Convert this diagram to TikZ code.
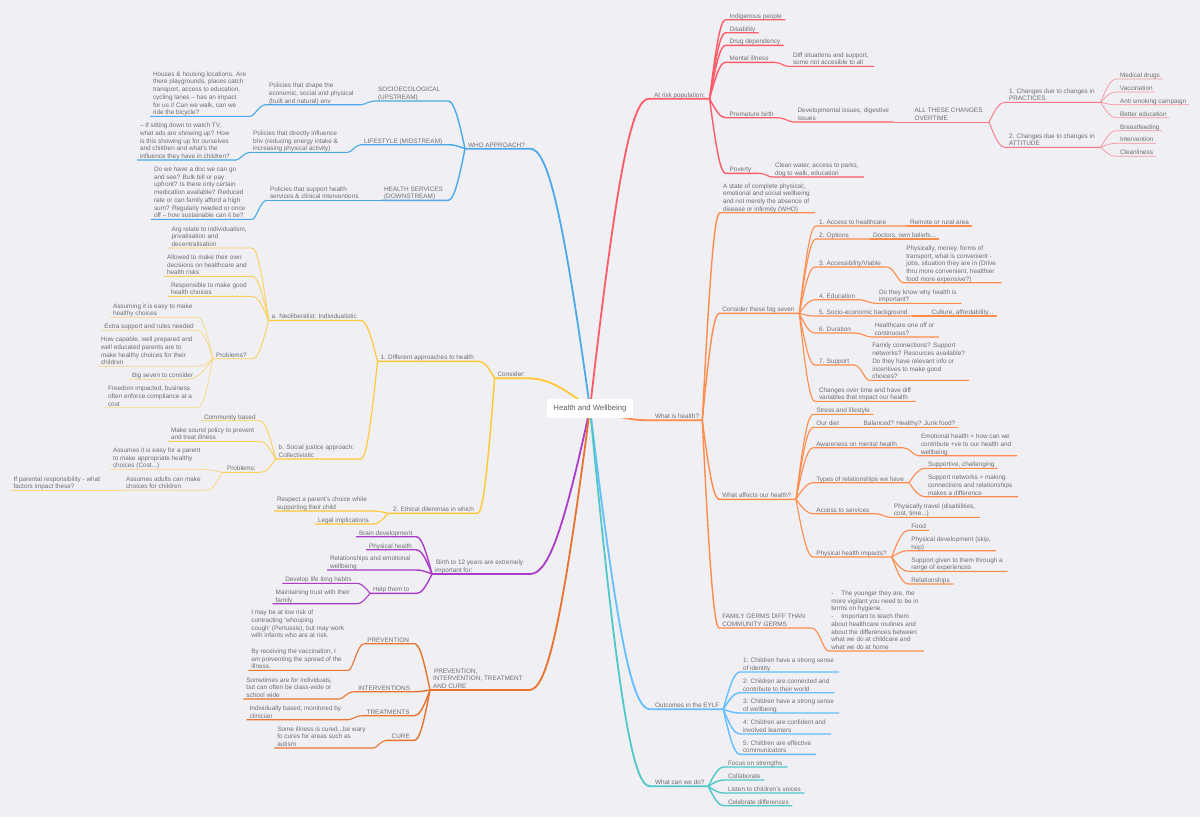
\documentclass[tikz,border=0pt]{standalone}
\usepackage{fontspec}
\setmainfont{Liberation Sans}
\usetikzlibrary{calc,backgrounds}

\definecolor{paper}{RGB}{239,239,244}
\definecolor{inktext}{RGB}{112,112,114}
\definecolor{cblue}{RGB}{76,170,232}
\definecolor{cred}{RGB}{255,90,104}
\definecolor{cyellow}{RGB}{255,200,50}
\definecolor{cpurple}{RGB}{170,60,200}
\definecolor{cdark}{RGB}{232,115,45}
\definecolor{corange}{RGB}{255,140,75}
\definecolor{csky}{RGB}{100,190,255}
\definecolor{cteal}{RGB}{80,200,200}

\tikzset{
    topic/.style={anchor=south west,inner xsep=3pt,inner ysep=0pt,outer sep=0pt,
        font=\fontsize{6.4}{7.7}\selectfont,text=inktext},
    mainbox/.style={fill=white,rounded corners=3pt,minimum width=86pt,minimum height=19pt,
        inner sep=0pt,font=\fontsize{7.7}{9}\selectfont,text=inktext!85!black},
    lvone/.style={line width=1.8pt,line join=round},
    lvtwo/.style={line width=1.4pt,line join=round},
    lvthree/.style={line width=1.1pt,line join=round},
    lvfour/.style={line width=0.9pt,line join=round,draw opacity=.8},
    lvfive/.style={line width=0.7pt,line join=round,draw opacity=.6}
}

% text of a topic: width of its line, optional shift of the text
\newcommand{\tx}[3][0]{\makebox[\dimexpr#2pt-6pt][l]{\hspace{#1pt}\raisebox{-.8pt}[\height][\depth]{\begin{tabular}[b]{@{}l@{}}#3\end{tabular}}}}
% curve from a parent into the line of a child, then along that line
\newcommand{\bend}[5]{\draw[#5] let \p1=(#1),\p2=(#2) in (\p1) .. controls ({\x1+.45*(\x2-\x1)},{\y1+#4*(\y2-\y1)}) and ({\x1+.7*(\x2-\x1)},\y2) .. (\p2) -- (#3);}
\newcommand{\fanL}[3]{\bend{#1.south west}{#2.south east}{#2.south west}{.75}{#3}}
\newcommand{\fanR}[3]{\bend{#1.south east}{#2.south west}{#2.south east}{.75}{#3}}
\newcommand{\runL}[3]{\bend{#1.south west}{#2.south east}{#2.south west}{0}{#3}}
\newcommand{\runR}[3]{\bend{#1.south east}{#2.south west}{#2.south east}{0}{#3}}

\begin{document}
\begin{tikzpicture}[x=1pt,y=-1pt]
    \useasboundingbox (0,0) rectangle (1200,817);

    \node[mainbox] (root) at (590,408.5) {Health and Wellbeing};

    % upper left
    \node[topic] (who) at (465,148.7) {\tx{65}{WHO APPROACH?}};
    \node[topic] (socio) at (375,101) {\tx{73}{SOCIOECOLOGICAL\\(UPSTREAM)}};
    \node[topic] (polshape) at (266,104.7) {\tx{95}{Policies that shape the\\economic, social and physical\\(built and natural) env}};
    \node[topic] (houses) at (150,116.3) {\tx{100}{Houses \& housing locations. Are\\there playgrounds, places catch\\transport, access to education,\\cycling lanes -- has an impact\\for us // Can we walk, can we\\ride the bicycle?}};
    \node[topic] (lifestyle) at (361,144.7) {\tx{87}{LIFESTYLE (MIDSTREAM)}};
    \node[topic] (polbhv) at (250,152.3) {\tx{98}{Policies that directly influence\\bhv (reducing energy intake \&\\increasing physical activity)}};
    \node[topic] (sitting) at (137,160) {\tx{99}{-- If sitting down to watch TV,\\what ads are showing up? How\\is this showing up for ourselves\\and children and what's the\\influence they have in children?}};
    \node[topic] (hservices) at (381,200.3) {\tx{67}{HEALTH SERVICES\\(DOWNSTREAM)}};
    \node[topic] (polserv) at (267,200.3) {\tx{114}{Policies that support health\\services \& clinical interventions}};
    \node[topic] (docquest) at (151,219.3) {\tx{101}{Do we have a doc we can go\\and see? Bulk bill or pay\\upfront? Is there only certain\\medication available? Reduced\\rate or can family afford a high\\sum? Regularly needed or once\\off -- how sustainable can it be?}};

    % consider
    \node[topic] (consider) at (494.6,378.3) {\tx{32.4}{Consider:}};
    \node[topic] (diffapp) at (377.5,361.3) {\tx{101}{1. Different approaches to health}};
    \node[topic] (neolib) at (268.6,320.3) {\tx{92}{a. Neoliberalist: Individualistic}};
    \node[topic] (argrel) at (168.6,248) {\tx{83.2}{Arg relate to individualism,\\privatisation and\\decentralisation}};
    \node[topic] (allowed) at (164,276.3) {\tx{88}{Allowed to make their own\\decisions on healthcare and\\health risks}};
    \node[topic] (respons) at (168,296.3) {\tx{84}{Responsible to make good\\health choices}};
    \node[topic] (probone) at (213,358.7) {\tx{39.5}{Problems?}};
    \node[topic] (assuming) at (110,317.3) {\tx{87.5}{Assuming it is easy to make\\healthy choices}};
    \node[topic] (extra) at (101.4,330.3) {\tx{96}{Extra support and rules needed}};
    \node[topic] (capable) at (98,366.3) {\tx{100}{How capable, well prepared and\\well educated parents are to\\make healthy choices for their\\children}};
    \node[topic] (bigcons) at (129,379.3) {\tx{59}{Big seven to consider}};
    \node[topic] (freedom) at (105,407.7) {\tx{92.5}{Freedom impacted, business\\often enforce compliance at a\\cost}};
    \node[topic] (justice) at (275.7,459) {\tx{85}{b. Social justice approach:\\Collectivistic}};
    \node[topic] (commun) at (201,420.7) {\tx{58.6}{Community based}};
    \node[topic] (policy) at (168,441.3) {\tx{91.6}{Make sound policy to prevent\\and treat illness}};
    \node[topic] (probtwo) at (222,472.3) {\tx{38.7}{\hspace{2pt}Problems:}};
    \node[topic] (easypar) at (110,469.3) {\tx{90}{Assumes it is easy for a parent\\to make appropriate healthy\\choices (Cost...)}};
    \node[topic] (adults) at (123,490.3) {\tx{84}{Assumes adults can make\\choices for children}};
    \node[topic] (parental) at (10.7,490.3) {\tx{112.3}{If parental responsibility - what\\factors impact these?}};
    \node[topic] (ethical) at (388,513.3) {\tx{89.5}{\hspace{2pt}2. Ethical dilemmas in which}};
    \node[topic] (respect) at (274,511) {\tx{99}{Respect a parent's choice while\\supporting their child}};
    \node[topic] (legal) at (315,524) {\tx{58}{Legal implications}};

    % birth to 12
    \node[topic] (birth) at (432,574) {\tx{98}{\hspace{1pt}Birth to 12 years are extremely\\important for:}};
    \node[topic] (brain) at (356,536.7) {\tx{60}{Brain development}};
    \node[topic] (phys) at (366,549.7) {\tx{50}{Physical health}};
    \node[topic] (relemo) at (327,570) {\tx{89}{Relationships and emotional\\wellbeing}};
    \node[topic] (help) at (370,593.3) {\tx{46.7}{Help them to}};
    \node[topic] (habits) at (282.3,583.3) {\tx{74.4}{Develop life long habits}};
    \node[topic] (trust) at (272.7,603.7) {\tx{84}{Maintaining trust with their\\family}};

    % prevention
    \node[topic] (prevmain) at (430,690) {\tx{99.3}{\hspace{1pt}PREVENTION,\\INTERVENTION, TREATMENT\\AND CURE}};
    \node[topic] (prevent) at (364.3,643.7) {\tx{50}{PREVENTION}};
    \node[topic] (lowrisk) at (248.3,670.3) {\tx{100}{I may be at low risk of\\contracting ‘whooping\\cough’ (Pertussis), but may work\\with infants who are at risk.\\ \\By receiving the vaccination, I\\am preventing the spread of the\\illness.}};
    \node[topic] (interv) at (353.3,691.7) {\tx{61}{\hspace{2pt}INTERVENTIONS}};
    \node[topic] (sometimes) at (243.3,699) {\tx{96}{Sometimes are for individuals,\\but can often be class-wide or\\school wide}};
    \node[topic] (treat) at (361.7,715.7) {\tx{52.6}{\hspace{2pt}TREATMENTS}};
    \node[topic] (individ) at (246.7,719.7) {\tx{101.6}{Individually based, monitored by\\clinician}};
    \node[topic] (cure) at (386.7,740.3) {\tx{27.6}{\hspace{2pt}CURE}};
    \node[topic] (cured) at (274.3,748) {\tx{99}{Some illness is cured...be wary\\fo cures for areas such as\\autism}};

    % at risk
    \node[topic] (atrisk) at (649,98.7) {\tx{60.6}{\hspace{2pt}At risk population:}};
    \node[topic] (indig) at (725.7,19.7) {\tx{59.7}{\hspace{1pt}Indigenous people}};
    \node[topic] (disab) at (725.7,32.7) {\tx{32.9}{\hspace{1pt}Disability}};
    \node[topic] (drug) at (725.7,45.3) {\tx{57.9}{\hspace{1pt}Drug dependency}};
    \node[topic] (mental) at (725.7,62.3) {\tx{48.3}{\hspace{1pt}Mental illness}};
    \node[topic] (diffsit) at (788,66.3) {\tx{86}{\hspace{2pt}Diff situations and support,\\\hspace{2pt}some not accesible to all}};
    \node[topic] (premat) at (725.7,117.7) {\tx{51.8}{\hspace{1pt}Premature birth}};
    \node[topic] (devel) at (793.6,122) {\tx{100}{\hspace{1pt}Developmental issues, digestive\\\hspace{1pt}issues}};
    \node[topic] (allchg) at (893.6,122) {\tx[18]{95.4}{ALL THESE CHANGES\\OVERTIME}};
    \node[topic] (practice) at (1005,102.3) {\tx{95.7}{\hspace{1pt}1. Changes due to changes in\\\hspace{1pt}PRACTICES}};
    \node[topic] (attitude) at (1005,147.3) {\tx{95.7}{\hspace{1pt}2. Changes due to changes in\\\hspace{1pt}ATTITUDE}};
    \node[topic] (meddrug) at (1116,79) {\tx{46.5}{\hspace{1pt}Medical drugs}};
    \node[topic] (vaccin) at (1116,92) {\tx{38.6}{\hspace{1pt}Vaccination}};
    \node[topic] (antismok) at (1116,104.7) {\tx{73}{\hspace{1pt}Anti smoking campaign}};
    \node[topic] (bettered) at (1116,117.7) {\tx{53}{\hspace{1pt}Better education}};
    \node[topic] (breast) at (1116,130.7) {\tx{46}{\hspace{1pt}Breastfeeding}};
    \node[topic] (intervn) at (1116,143.3) {\tx{40}{\hspace{1pt}Intervention}};
    \node[topic] (clean) at (1116,156.3) {\tx{40}{\hspace{1pt}Cleanliness}};
    \node[topic] (poverty) at (725.7,173.3) {\tx{33.9}{\hspace{1pt}Poverty}};
    \node[topic] (water) at (772,177) {\tx{92}{Clean water, access to parks,\\dog to walk, education}};

    % what is health
    \node[topic] (health) at (650,420.3) {\tx{52.3}{\hspace{2pt}What is health?}};
    \node[topic] (whodef) at (720,212.7) {\tx{95}{A state of complete physical;,\\emotional and social wellbeing\\and not merely the absence of\\disease or infirmity (WHO)}};
    \node[topic] (bigseven) at (719.3,313.3) {\tx{80}{Consider these big seven}};
    \node[topic] (access) at (816,226) {\tx{90}{1. Access to healthcare}};
    \node[topic] (remote) at (906,226) {\tx[1]{65.7}{Remote or rural area}};
    \node[topic] (options) at (816,239) {\tx{54}{2. Options}};
    \node[topic] (doctors) at (870,239) {\tx{69}{Doctors, own beliefs...}};
    \node[topic] (viable) at (815,267) {\tx{71.7}{\hspace{1pt}3. Accessibility/Viable}};
    \node[topic] (physically) at (903.3,282.7) {\tx{98.4}{Physically, money, forms of\\transport, what is convenient -\\jobs, situation they are in (Drive\\thru more convenient, healthier\\food more expensive?)}};
    \node[topic] (educ) at (815,299.7) {\tx{43}{\hspace{1pt}4. Education}};
    \node[topic] (dothey) at (875,303.3) {\tx{86.7}{\hspace{1pt}Do they know why health is\\\hspace{1pt}important?}};
    \node[topic] (socioec) at (815,316) {\tx{96.7}{\hspace{1pt}5. Socio-economic background}};
    \node[topic] (culture) at (911.7,316) {\tx[17]{85}{Culture, affordability...}};
    \node[topic] (duration) at (815,333) {\tx{40}{\hspace{1pt}6. Duration}};
    \node[topic] (oneoff) at (870.7,337) {\tx{68.3}{\hspace{1pt}Healthcare one off or\\\hspace{1pt}continuous?}};
    \node[topic] (support) at (815,365) {\tx{39}{\hspace{1pt}7. Support}};
    \node[topic] (family) at (869.3,380.3) {\tx{99.7}{Family connections? Support\\networks? Resources available?\\Do they have relevant info or\\incentives to make good\\choices?}};
    \node[topic] (overtime) at (815,401.3) {\tx{100.7}{\hspace{1pt}Changes over time and have diff\\\hspace{1pt}variables that impact our health}};

    \node[topic] (affects) at (719.3,499.3) {\tx{76.7}{What affects our health?}};
    \node[topic] (stress) at (813.3,414.3) {\tx{60}{Stress and lifestyle}};
    \node[topic] (diet) at (813.3,427.3) {\tx{29.4}{Our diet}};
    \node[topic] (balanced) at (842.7,427.3) {\tx[18]{115}{Balanced? Healthy? Junk food?}};
    \node[topic] (aware) at (813.3,447.7) {\tx{89.7}{Awareness on mental health}};
    \node[topic] (emotional) at (918,455.7) {\tx{99}{Emotional health = how can we\\contribute +ve to our health and\\wellbeing}};
    \node[topic] (types) at (813.3,482.7) {\tx{95.7}{Types of relationships we have}};
    \node[topic] (supportive) at (925,468.3) {\tx{72.7}{Supportive, challenging}};
    \node[topic] (networks) at (925,496.7) {\tx{93}{Support networks = making\\connections and relationships\\makes a difference}};
    \node[topic] (services) at (813.3,513.7) {\tx{61.7}{Access to services}};
    \node[topic] (travel) at (890,517.3) {\tx{90}{\hspace{1pt}Physically travel (disabilities,\\\hspace{1pt}cost, time...)}};
    \node[topic] (impacts) at (813.3,557) {\tx{78.4}{Physical health impacts?}};
    \node[topic] (food) at (908.3,530.3) {\tx{20.7}{Food}};
    \node[topic] (physdev) at (908.3,550.7) {\tx{87.7}{Physical development (skip,\\hop)}};
    \node[topic] (given) at (908.3,571.3) {\tx{99}{Support given to them through a\\range of experiences}};
    \node[topic] (relation) at (908.3,584) {\tx{45}{Relationships}};
    \node[topic] (germs) at (719.3,628) {\tx{92.4}{FAMILY GERMS DIFF THAN\\COMMUNITY GERMS}};
    \node[topic] (younger) at (828.3,651) {\tx{95.7}{-\hspace{8pt}The younger they are, the\\more vigilant you need to be in\\terms on hygiene.\\-\hspace{8pt}Important to teach them\\about healthcare routines and\\about the differences between\\what we do at childcare and\\what we do at home}};

    % eylf and what can we do
    \node[topic] (eylf) at (650,709.3) {\tx{73.3}{\hspace{2pt}Outcomes in the EYLF}};
    \node[topic] (eyone) at (740,672) {\tx{99}{1: Children have a strong sense\\of identity}};
    \node[topic] (eytwo) at (740,692.7) {\tx{94.7}{2: Children are connected and\\contribute to their world}};
    \node[topic] (eythree) at (740,713) {\tx{99}{3: Children have a strong sense\\of wellbeing}};
    \node[topic] (eyfour) at (740,734) {\tx{91}{4: Children are confident and\\involved learners}};
    \node[topic] (eyfive) at (740,754.3) {\tx{76}{5: Children are effective\\communicators}};
    \node[topic] (cando) at (650,786.3) {\tx{58.3}{\hspace{2pt}What can we do?}};
    \node[topic] (focus) at (724,767) {\tx{63.7}{\hspace{1pt}Focus on strengths}};
    \node[topic] (collab) at (724,780) {\tx{40.3}{\hspace{1pt}Collaborate}};
    \node[topic] (listen) at (724,793) {\tx{80.3}{\hspace{1pt}Listen to children's voices}};
    \node[topic] (celeb) at (724,805.7) {\tx{68.3}{\hspace{1pt}Celebrate differences}};

    \begin{scope}[on background layer]
        \fill[paper] (0,0) rectangle (1200,817);

        \bend{root.center}{who.south east}{who.south west}{.75}{lvone,cblue}
        \foreach \a in {socio,lifestyle,hservices} {\fanL{who}{\a}{lvtwo,cblue}}
        \runL{socio}{polshape}{lvthree,cblue}
        \runL{polshape}{houses}{lvthree,cblue}
        \runL{lifestyle}{polbhv}{lvthree,cblue}
        \runL{polbhv}{sitting}{lvthree,cblue}
        \runL{hservices}{polserv}{lvthree,cblue}
        \runL{polserv}{docquest}{lvthree,cblue}

        \bend{root.center}{consider.south east}{consider.south west}{.75}{lvone,cyellow}
        \foreach \a in {diffapp,ethical} {\fanL{consider}{\a}{lvtwo,cyellow}}
        \foreach \a in {neolib,justice} {\fanL{diffapp}{\a}{lvthree,cyellow}}
        \foreach \a in {respect,legal} {\fanL{ethical}{\a}{lvthree,cyellow}}
        \foreach \a in {argrel,allowed,respons,probone} {\fanL{neolib}{\a}{lvfour,cyellow}}
        \foreach \a in {commun,policy,probtwo} {\fanL{justice}{\a}{lvfour,cyellow}}
        \foreach \a in {assuming,extra,capable,bigcons,freedom} {\fanL{probone}{\a}{lvfive,cyellow}}
        \foreach \a in {easypar,adults} {\fanL{probtwo}{\a}{lvfive,cyellow}}
        \runL{adults}{parental}{lvfive,cyellow}

        \bend{root.center}{birth.south east}{birth.south west}{.75}{lvone,cpurple}
        \foreach \a in {brain,phys,relemo,help} {\fanL{birth}{\a}{lvtwo,cpurple}}
        \foreach \a in {habits,trust} {\fanL{help}{\a}{lvthree,cpurple}}

        \bend{root.center}{prevmain.south east}{prevmain.south west}{.75}{lvone,cdark}
        \foreach \a in {prevent,interv,treat,cure} {\fanL{prevmain}{\a}{lvtwo,cdark}}
        \runL{prevent}{lowrisk}{lvthree,cdark}
        \runL{interv}{sometimes}{lvthree,cdark}
        \runL{treat}{individ}{lvthree,cdark}
        \runL{cure}{cured}{lvthree,cdark}

        \bend{root.center}{atrisk.south west}{atrisk.south east}{.75}{lvone,cred}
        \foreach \a in {indig,disab,drug,mental,premat,poverty} {\fanR{atrisk}{\a}{lvtwo,cred}}
        \runR{mental}{diffsit}{lvthree,cred}
        \runR{premat}{devel}{lvthree,cred}
        \runR{poverty}{water}{lvthree,cred}
        \runR{devel}{allchg}{lvfour,cred}
        \foreach \a in {practice,attitude} {\fanR{allchg}{\a}{lvfour,cred}}
        \foreach \a in {meddrug,vaccin,antismok,bettered} {\fanR{practice}{\a}{lvfive,cred}}
        \foreach \a in {breast,intervn,clean} {\fanR{attitude}{\a}{lvfive,cred}}

        \bend{root.center}{health.south west}{health.south east}{.75}{lvone,corange}
        \foreach \a in {whodef,bigseven,affects,germs} {\fanR{health}{\a}{lvtwo,corange}}
        \foreach \a in {access,options,viable,educ,socioec,duration,support,overtime} {\fanR{bigseven}{\a}{lvthree,corange}}
        \foreach \a in {stress,diet,aware,types,services,impacts} {\fanR{affects}{\a}{lvthree,corange}}
        \runR{access}{remote}{lvthree,corange}
        \runR{options}{doctors}{lvthree,corange}
        \runR{viable}{physically}{lvthree,corange}
        \runR{educ}{dothey}{lvthree,corange}
        \runR{socioec}{culture}{lvthree,corange}
        \runR{duration}{oneoff}{lvthree,corange}
        \runR{support}{family}{lvthree,corange}
        \runR{diet}{balanced}{lvthree,corange}
        \runR{aware}{emotional}{lvthree,corange}
        \runR{services}{travel}{lvthree,corange}
        \runR{germs}{younger}{lvthree,corange}
        \foreach \a in {supportive,networks} {\fanR{types}{\a}{lvthree,corange}}
        \foreach \a in {food,physdev,given,relation} {\fanR{impacts}{\a}{lvthree,corange}}

        \bend{root.center}{eylf.south west}{eylf.south east}{.75}{lvone,csky}
        \foreach \a in {eyone,eytwo,eythree,eyfour,eyfive} {\fanR{eylf}{\a}{lvtwo,csky}}

        \bend{root.center}{cando.south west}{cando.south east}{.75}{lvone,cteal}
        \foreach \a in {focus,collab,listen,celeb} {\fanR{cando}{\a}{lvtwo,cteal}}
    \end{scope}
\end{tikzpicture}
\end{document}
